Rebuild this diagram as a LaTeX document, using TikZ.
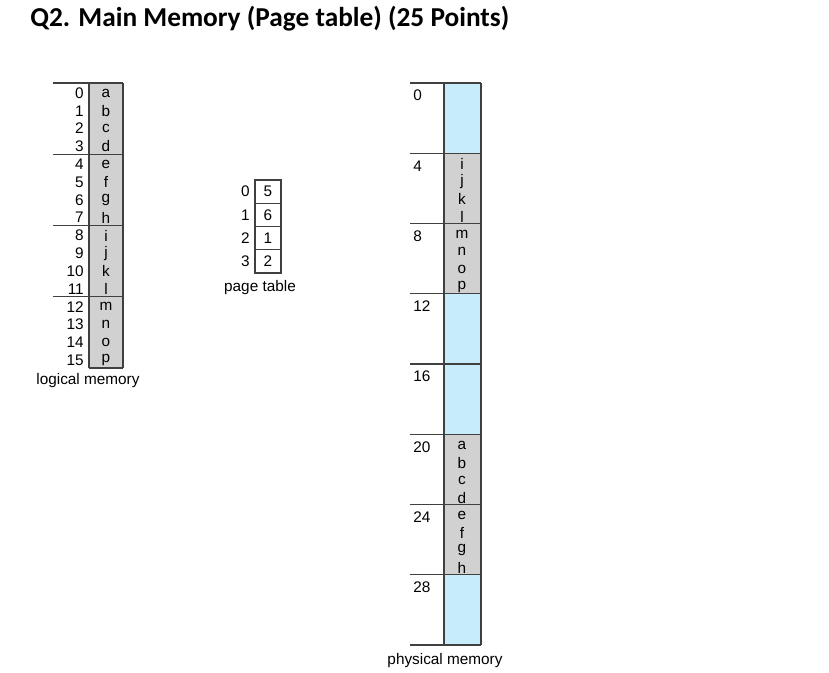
\documentclass[tikz,border=0pt]{standalone}
\usepackage{fontspec}
\setmainfont{Liberation Sans}
\newfontfamily\titlefont{Carlito}
\begin{document}
\begin{tikzpicture}[x=0.75pt,y=-0.75pt,
  lbl/.style={inner sep=0pt,font=\fontsize{11.5}{13}\selectfont},
  gray/.style={fill=black!18},
  blue/.style={fill=cyan!22},
  ln/.style={draw=black!75,line width=0.8pt}]
\useasboundingbox (0,0) rectangle (829,672);
\node[anchor=west,inner sep=0pt,font=\titlefont\bfseries\fontsize{20.5}{24}\selectfont] (title) at (30,19) {Q2. Main Memory (Page table) (25 Points)};
% logical memory
\fill[gray] (89,83) rectangle (123,368);
\draw[ln] (89,83) -- (89,368) (123,83) -- (123,368) (89,368) -- (123,368);
\foreach \k in {0,4,8,12} \draw[ln] (53,{83+\k*17.8125}) -- (123,{83+\k*17.8125});
\foreach \t [count=\i from 0] in {a,b,c,d,e,f,g,h,i,j,k,l,m,n,o,p} {
  \node[lbl,anchor=east] (ln\i) at (84,{93+\i*17.8125}) {\i};
  \node[lbl] (lc\i) at (106,{93+\i*17.8125}) {\t};
}
\node[lbl] (lmem) at (88,381) {logical memory};
% page table
\foreach \v [count=\i from 0] in {5,6,1,2} {
  \draw[ln] (255,{180+\i*23.25}) rectangle (281,{180+(\i+1)*23.25});
  \node[lbl] (pv\i) at (268,{191.6+\i*23.25}) {\v};
  \node[lbl,anchor=east] (pi\i) at (250,{191.6+\i*23.25}) {\i};
}
\node[lbl] (ptab) at (260,288) {page table};
% physical memory
\foreach \j/\s in {0/blue,1/gray,2/gray,3/blue,4/blue,5/gray,6/gray,7/blue}
  \fill[\s] (444,{83+\j*70.25}) rectangle (481,{83+(\j+1)*70.25});
\draw[ln] (444,83) -- (444,645) (481,83) -- (481,645);
\foreach \j in {0,...,8} \draw[ln] (410,{83+\j*70.25}) -- (481,{83+\j*70.25});
\foreach \j in {0,...,7} \node[lbl,anchor=north west] (pf\j) at (413,{90+\j*70.25}) {\the\numexpr\j*4\relax};
\foreach \t [count=\i from 0] in {i,j,k,l,m,n,o,p} \node[lbl] (pa\i) at (462,{164+\i*17.56}) {\t};
\foreach \t [count=\i from 0] in {a,b,c,d,e,f,g,h} \node[lbl] (pb\i) at (462,{445+\i*17.56}) {\t};
\node[lbl] (pmem) at (445,661) {physical memory};
\end{tikzpicture}
\end{document}
